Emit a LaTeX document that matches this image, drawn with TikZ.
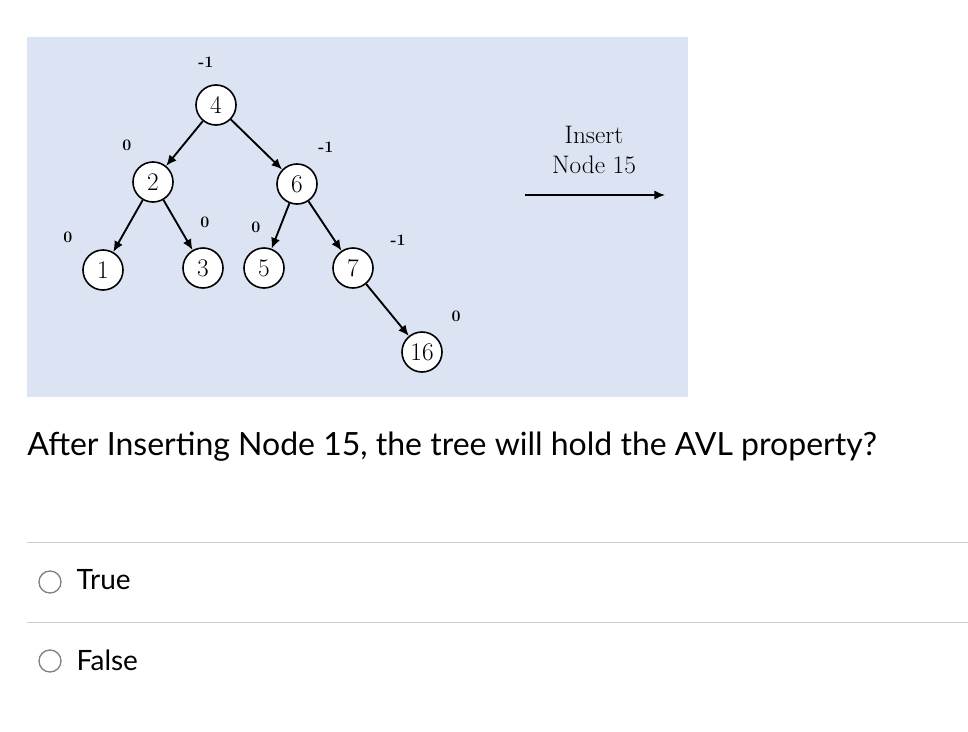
\documentclass[tikz,border=0pt]{standalone}
\usepackage{fontspec}
\newfontfamily\latofont{Lato}
\usetikzlibrary{positioning,arrows.meta}
\definecolor{panel}{HTML}{DCE3F2}
\definecolor{rule}{HTML}{C7CDD1}
\tikzset{
  avl/.style={circle,draw,line width=1.2pt,fill=white,minimum size=30pt,inner sep=0pt,font=\fontsize{19}{19}\selectfont},
  bal/.style={font=\bfseries\fontsize{12}{12}\selectfont},
  edge/.style={-{Latex[length=8pt,width=7pt]},line width=1.4pt},
  answer/.style={font=\latofont\fontsize{21}{21}\selectfont,anchor=west}
}
\begin{document}
\begin{tikzpicture}[x=0.75pt,y=-0.75pt]
\useasboundingbox (0,0) rectangle (968,732);
\fill[panel] (27,37) rectangle (688,397);
% tree
\node[avl] (n4) at (216,105) {4};
\node[avl] (n2) at (153,182) {2};
\node[avl] (n6) at (297,184) {6};
\node[avl] (n1) at (103,270) {1};
\node[avl] (n3) at (203,268) {3};
\node[avl] (n5) at (264,268) {5};
\node[avl] (n7) at (353,268) {7};
\node[avl] (n16) at (422,352) {16};
\foreach \a/\b in {n4/n2,n4/n6,n2/n1,n2/n3,n6/n5,n6/n7,n7/n16}
  \draw[edge] (\a) -- (\b);
% balance factors
\node[bal] at (206,62) {-1};
\node[bal] at (127,145) {0};
\node[bal] at (326,147) {-1};
\node[bal] at (68,237) {0};
\node[bal] at (205,222) {0};
\node[bal] at (256,227) {0};
\node[bal] at (398,240) {-1};
\node[bal] at (456,316) {0};
% insert arrow
\node[align=center,font=\fontsize{19}{23}\selectfont] (ins) at (594,150) {Insert\\Node 15};
\coordinate (a0) at (525,195);
\coordinate (a1) at (665,195);
\draw[edge] (a0) -- (a1);
% question
\node[font=\latofont\fontsize{24}{24}\selectfont,anchor=west,inner sep=0pt] (q) at (27,447) {After Inserting Node 15, the tree will hold the AVL property?};
\draw[rule] (27,542) -- (968,542);
\draw[rule] (27,622) -- (968,622);
\draw[gray,line width=1pt] (50,582) circle (11);
\draw[gray,line width=1pt] (50,661) circle (11);
\node[answer] (t) at (72,580) {True};
\node[answer] (f) at (72,660) {False};
\end{tikzpicture}
\end{document}
